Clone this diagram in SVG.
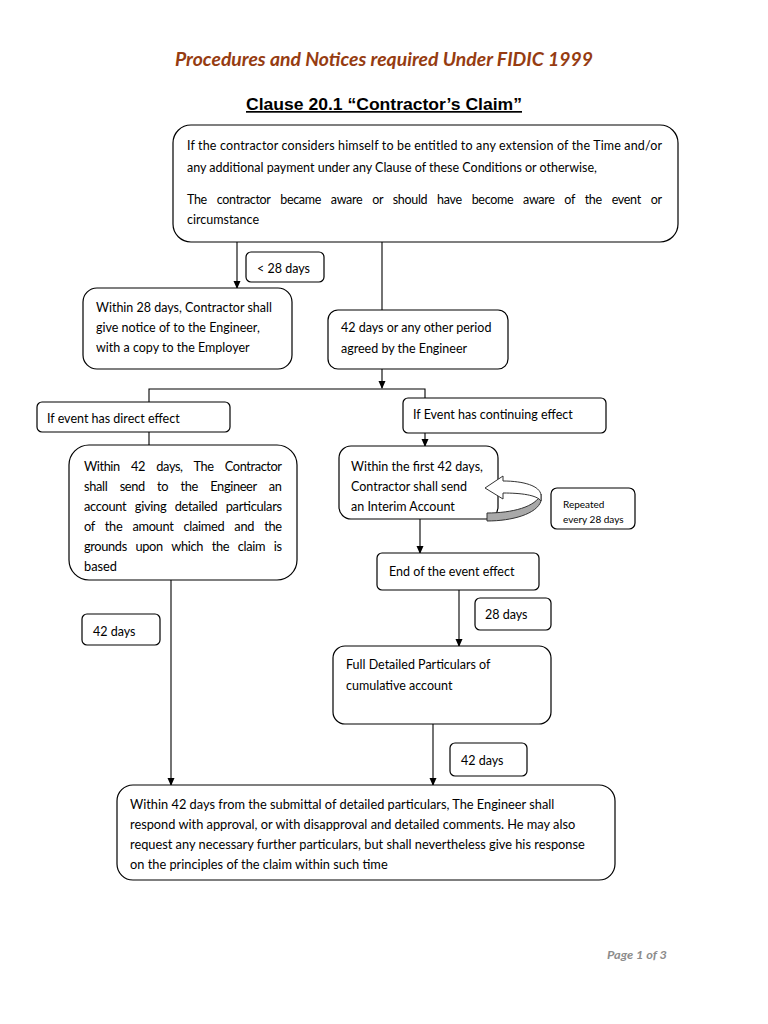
<svg xmlns="http://www.w3.org/2000/svg" width="768" height="1024" viewBox="0 0 768 1024">
<defs>
<marker id="ah" markerWidth="8" markerHeight="8" refX="7" refY="4" orient="auto" markerUnits="userSpaceOnUse">
<path d="M0,0.5 L8,4 L0,7.5 Z" fill="#000"/>
</marker>
<style>
.box{fill:#fff;stroke:#000;stroke-width:1.2}
.t{font-family:Lato,"Open Sans","Liberation Sans",sans-serif;font-size:12.5px;fill:#000}
.b{font-size:12.8px}
.s{font-family:Lato,"Open Sans","Liberation Sans",sans-serif;font-size:10px;fill:#000}
.c{fill:none;stroke:#000;stroke-width:1.1}
</style>
</defs>
<rect width="768" height="1024" fill="#fff"/>
<text x="175" y="66" font-family="Lato,'Open Sans',sans-serif" font-weight="bold" font-style="italic" font-size="18" fill="#963C11" textLength="418" lengthAdjust="spacingAndGlyphs">Procedures and Notices required Under FIDIC 1999</text>
<text x="246" y="110" font-family="'Liberation Sans',Arial,sans-serif" font-weight="bold" font-size="17" fill="#000" text-decoration="underline" textLength="276" lengthAdjust="spacingAndGlyphs">Clause 20.1 “Contractor’s Claim”</text>

<g id="connectors">
<line class="c" x1="237" y1="242" x2="237" y2="288" marker-end="url(#ah)"/>
<line class="c" x1="382" y1="242" x2="382" y2="388" marker-end="url(#ah)"/>
<polyline class="c" points="149,445 149,389 425,389 425,446" marker-end="url(#ah)"/>
<line class="c" x1="420" y1="519" x2="420" y2="553" marker-end="url(#ah)"/>
<line class="c" x1="459" y1="590" x2="459" y2="646" marker-end="url(#ah)"/>
<line class="c" x1="433" y1="724" x2="433" y2="785" marker-end="url(#ah)"/>
<line class="c" x1="171" y1="580" x2="171" y2="785" marker-end="url(#ah)"/>
</g>

<g id="n-top">
<rect class="box" x="173" y="125" width="505" height="117" rx="18"/>
<text class="t" x="187" y="150" textLength="475" lengthAdjust="spacing">If the contractor considers himself to be entitled to any extension of the Time and/or</text>
<text class="t" x="187" y="172">any additional payment under any Clause of these Conditions or otherwise,</text>
<text class="t" x="187" y="204" word-spacing="7" textLength="475" lengthAdjust="spacing">The contractor became aware or should have become aware of the event or</text>
<text class="t" x="187" y="224">circumstance</text>
</g>

<g id="n-lt28">
<rect class="box" x="246" y="252" width="78" height="30" rx="5"/>
<text class="t" x="257" y="273">&lt; 28 days</text>
</g>

<g id="n-notice">
<rect class="box" x="83" y="288" width="209" height="81" rx="14"/>
<text class="t" x="96" y="312">Within 28 days, Contractor shall</text>
<text class="t" x="96" y="332">give notice of to the Engineer,</text>
<text class="t" x="96" y="352">with a copy to the Employer</text>
</g>

<g id="n-42period">
<rect class="box" x="328" y="310" width="180" height="59" rx="10"/>
<text class="t" x="341" y="332">42 days or any other period</text>
<text class="t" x="341" y="353">agreed by the Engineer</text>
</g>

<g id="n-direct">
<rect class="box" x="37" y="402" width="193" height="30" rx="5"/>
<text class="t" x="47" y="423">If event has direct effect</text>
</g>

<g id="n-continuing">
<rect class="box" x="403" y="398" width="203" height="35" rx="5"/>
<text class="t" x="413" y="419">If Event has continuing effect</text>
</g>

<g id="n-account">
<rect class="box" x="69" y="445" width="228" height="135" rx="20"/>
<text class="t b" x="84" y="471" word-spacing="8.4" textLength="198" lengthAdjust="spacing">Within 42 days, The Contractor</text>
<text class="t b" x="84" y="491" word-spacing="9.4" textLength="198" lengthAdjust="spacing">shall send to the Engineer an</text>
<text class="t b" x="84" y="511" word-spacing="5.5" textLength="198" lengthAdjust="spacing">account giving detailed particulars</text>
<text class="t b" x="84" y="531" word-spacing="7.1" textLength="198" lengthAdjust="spacing">of the amount claimed and the</text>
<text class="t b" x="84" y="551" word-spacing="5.7" textLength="198" lengthAdjust="spacing">grounds upon which the claim is</text>
<text class="t b" x="84" y="571">based</text>
</g>

<g id="n-interim">
<rect class="box" x="339" y="446" width="159" height="73" rx="12"/>
<text class="t" x="351" y="471">Within the first 42 days,</text>
<text class="t" x="351" y="491">Contractor shall send</text>
<text class="t" x="351" y="511">an Interim Account</text>
</g>

<g id="loop-arrow">
<path d="M487,513 C512,513 536,507 541,494 L541,501 C537,514 512,521 487,521 Z" fill="#a9a9a9" stroke="#333" stroke-width="1"/>
<path d="M541,495 C540,486 524,481 503,481 L503,476 L485,488 L503,499 L503,493 C521,493 537,495 541,501 Z" fill="#fff" stroke="#333" stroke-width="1"/>
</g>

<g id="n-repeated">
<rect class="box" x="551" y="488" width="84" height="41" rx="6"/>
<text class="s" x="563" y="508">Repeated</text>
<text class="s" x="563" y="523" font-size="9.5">every 28 days</text>
</g>

<g id="n-end">
<rect class="box" x="377" y="553" width="162" height="37" rx="5"/>
<text class="t" x="389" y="576">End of the event effect</text>
</g>

<g id="n-28days">
<rect class="box" x="475" y="598" width="76" height="32" rx="5"/>
<text class="t" x="485" y="619">28 days</text>
</g>

<g id="n-42left">
<rect class="box" x="82" y="614" width="78" height="31" rx="5"/>
<text class="t" x="93" y="636">42 days</text>
</g>

<g id="n-full">
<rect class="box" x="333" y="646" width="218" height="78" rx="12"/>
<text class="t" x="346" y="669">Full Detailed Particulars of</text>
<text class="t" x="346" y="690">cumulative account</text>
</g>

<g id="n-42right">
<rect class="box" x="450" y="743" width="77" height="33" rx="5"/>
<text class="t" x="461" y="765">42 days</text>
</g>

<g id="n-response">
<rect class="box" x="117" y="785" width="498" height="95" rx="16"/>
<text class="t b" x="130" y="809">Within 42 days from the submittal of detailed particulars, The Engineer shall</text>
<text class="t b" x="130" y="829">respond with approval, or with disapproval and detailed comments. He may also</text>
<text class="t b" x="130" y="849">request any necessary further particulars, but shall nevertheless give his response</text>
<text class="t b" x="130" y="869">on the principles of the claim within such time</text>
</g>

<text x="607" y="959" font-family="Lato,'Open Sans',sans-serif" font-weight="bold" font-style="italic" font-size="12" fill="#8c8c8c" textLength="60" lengthAdjust="spacingAndGlyphs">Page 1 of 3</text>
</svg>
